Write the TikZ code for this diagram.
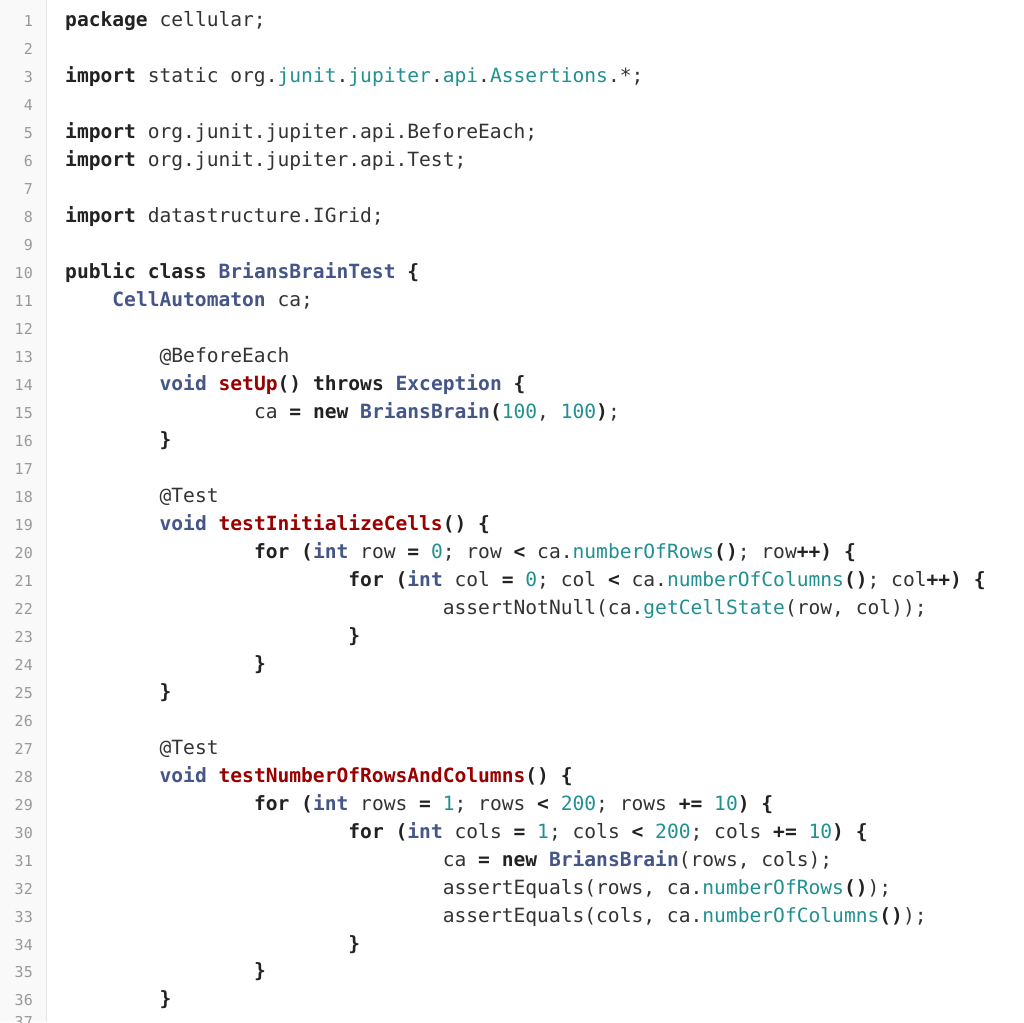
\documentclass[tikz,border=0pt]{standalone}
\usepackage{fontspec}
\setmonofont{DejaVu Sans Mono}
\definecolor{txt}{HTML}{333333}
\definecolor{kw}{HTML}{222222}
\definecolor{ty}{HTML}{445588}
\definecolor{fn}{HTML}{990000}
\definecolor{tl}{HTML}{219090}
\definecolor{num}{HTML}{999999}
\newcommand{\K}[1]{\textbf{\color{kw}#1}}
\newcommand{\T}[1]{\textbf{\color{ty}#1}}
\newcommand{\M}[1]{\textbf{\color{fn}#1}}
\newcommand{\C}[1]{{\color{tl}#1}}
\tikzset{code/.style={anchor=base west,inner sep=0pt,font=\fontsize{19.6pt}{20pt}\ttfamily,text=txt},
 lno/.style={anchor=base east,inner sep=0pt,font=\fontsize{15pt}{16pt}\ttfamily,text=num}}
\newcommand{\Ln}[3]{%
 \node[lno] (n#1) at (33pt,{-27pt-27.97pt*(#1-1)}) {#1};
 \node[code] (c#1) at ({65pt+11.8pt*#2},{-27pt-27.97pt*(#1-1)}) {#3};}
\begin{document}
\begin{tikzpicture}
\useasboundingbox (0,0) rectangle (1024pt,-1022pt);
\fill[gray!5] (0,0) rectangle (46pt,-1022pt);
\draw[gray!20] (46pt,0) -- (46pt,-1022pt);
\Ln{1}{0}{\K{package} cellular;}
\Ln{2}{0}{}
\Ln{3}{0}{\K{import} static org.\C{junit}.\C{jupiter}.\C{api}.\C{Assertions}.*;}
\Ln{4}{0}{}
\Ln{5}{0}{\K{import} org.junit.jupiter.api.BeforeEach;}
\Ln{6}{0}{\K{import} org.junit.jupiter.api.Test;}
\Ln{7}{0}{}
\Ln{8}{0}{\K{import} datastructure.IGrid;}
\Ln{9}{0}{}
\Ln{10}{0}{\K{public} \K{class} \T{BriansBrainTest} \K{\{}}
\Ln{11}{4}{\T{CellAutomaton} ca;}
\Ln{12}{0}{}
\Ln{13}{8}{@BeforeEach}
\Ln{14}{8}{\T{void} \M{setUp}\K{()} \K{throws} \T{Exception} \K{\{}}
\Ln{15}{16}{ca \K{=} \K{new} \T{BriansBrain}\K{(}\C{100}, \C{100}\K{)};}
\Ln{16}{8}{\K{\}}}
\Ln{17}{0}{}
\Ln{18}{8}{@Test}
\Ln{19}{8}{\T{void} \M{testInitializeCells}\K{()} \K{\{}}
\Ln{20}{16}{\K{for} \K{(}\T{int} row \K{=} \C{0}; row \K{<} ca.\C{numberOfRows}\K{()}; row\K{++}\K{)} \K{\{}}
\Ln{21}{24}{\K{for} \K{(}\T{int} col \K{=} \C{0}; col \K{<} ca.\C{numberOfColumns}\K{()}; col\K{++}\K{)} \K{\{}}
\Ln{22}{32}{assertNotNull(ca.\C{getCellState}(row, col));}
\Ln{23}{24}{\K{\}}}
\Ln{24}{16}{\K{\}}}
\Ln{25}{8}{\K{\}}}
\Ln{26}{0}{}
\Ln{27}{8}{@Test}
\Ln{28}{8}{\T{void} \M{testNumberOfRowsAndColumns}\K{()} \K{\{}}
\Ln{29}{16}{\K{for} \K{(}\T{int} rows \K{=} \C{1}; rows \K{<} \C{200}; rows \K{+=} \C{10}\K{)} \K{\{}}
\Ln{30}{24}{\K{for} \K{(}\T{int} cols \K{=} \C{1}; cols \K{<} \C{200}; cols \K{+=} \C{10}\K{)} \K{\{}}
\Ln{31}{32}{ca \K{=} \K{new} \T{BriansBrain}(rows, cols);}
\Ln{32}{32}{assertEquals(rows, ca.\C{numberOfRows}\K{()});}
\Ln{33}{32}{assertEquals(cols, ca.\C{numberOfColumns}\K{()});}
\Ln{34}{24}{\K{\}}}
\Ln{35}{16}{\K{\}}}
\Ln{36}{8}{\K{\}}}
\node[lno,anchor=north east] (n37) at (33pt,-1016pt) {37};
\end{tikzpicture}
\end{document}
